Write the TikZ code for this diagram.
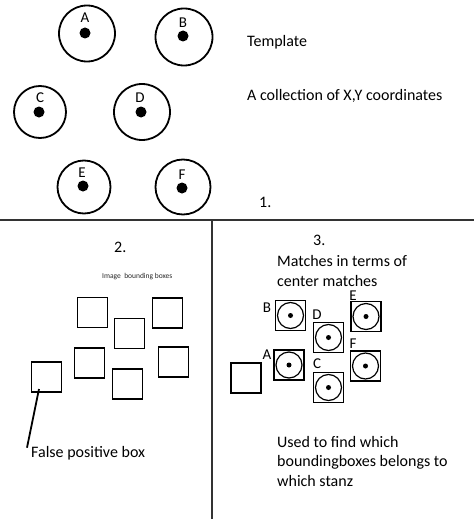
\documentclass[tikz,border=0pt]{standalone}
\usepackage{fontspec}
\setmainfont{Carlito}
\usetikzlibrary{calc}
\begin{document}
\begin{tikzpicture}[x=1pt,y=-1pt,
  bigring/.style={draw,circle,line width=1.8pt,inner sep=0pt,minimum size=#1},
  bigdot/.style={fill,circle,inner sep=0pt,minimum size=11pt},
  lbl/.style={font=\fontsize{15}{18}\selectfont,inner sep=0pt},
  txt/.style={font=\fontsize{16}{19.5}\selectfont,inner sep=0pt,anchor=base west,align=left},
  bbox/.style={draw,line width=1.4pt,inner sep=0pt,minimum size=30pt},
  mbox/.style={draw,line width=1.2pt,inner sep=0pt,minimum size=30pt},
  mring/.style={draw,circle,line width=1.2pt,inner sep=0pt,minimum size=26pt},
  mdot/.style={fill,circle,inner sep=0pt,minimum size=5pt},
  sep/.style={line width=1.5pt,draw=black!80}]
\useasboundingbox (0,0) rectangle (474,519);
% ---------- panel 1 ----------
\node[bigring=56pt] (rA) at (87,33.5) {};
\node[bigring=57pt] (rB) at (184,37) {};
\node[bigring=52pt] (rC) at (40,112) {};
\node[bigring=56pt] (rD) at (142,112) {};
\node[bigring=53pt] (rE) at (84,187) {};
\node[bigring=55pt] (rF) at (183,187) {};
\node[bigdot] (dA) at (85,33) {};
\node[bigdot] (dB) at (183,36) {};
\node[bigdot] (dC) at (39,112) {};
\node[bigdot] (dD) at (141,112) {};
\node[bigdot] (dE) at (83,186) {};
\node[bigdot] (dF) at (182,188) {};
\node[lbl] (tA) at (85,18) {A};
\node[lbl] (tB) at (183,23) {B};
\node[lbl] (tC) at (40,98) {C};
\node[lbl] (tD) at (140,98) {D};
\node[lbl] (tE) at (82,173) {E};
\node[lbl] (tF) at (182,175) {F};
\node[txt] (templ) at (247,47) {Template};
\node[txt] (coll) at (247,100) {A collection of X,Y coordinates};
\node[txt] (one) at (259,207) {1.};
% ---------- separators ----------
\coordinate (hl) at (0,220);
\coordinate (hr) at (474,220);
\coordinate (vt) at (212,220);
\coordinate (vb) at (212,519);
\draw[sep] (hl) -- (hr);
\draw[sep] (vt) -- (vb);
% ---------- panel 2 ----------
\node[txt] (two) at (114,252) {2.};
\node[font=\fontsize{7.5}{9}\selectfont,inner sep=0pt,anchor=base west,text=black!85] (ibb) at (102,278) {Image\ \ bounding boxes};
\node[bbox] (b1) at (92.5,312.5) {};
\node[bbox] (b2) at (129.5,333.5) {};
\node[bbox] (b3) at (167.5,313) {};
\node[bbox] (b4) at (89.5,363) {};
\node[bbox] (b5) at (173.5,362) {};
\node[bbox] (b6) at (127.5,384) {};
\node[bbox] (fp) at (46.5,377) {};
\node[txt] (fptext) at (31,457) {False positive box};
\coordinate (fpa) at (39,389);
\coordinate (fpb) at ($(fptext.north west)+(-4,2)$);
\draw[line width=1.8pt] (fpa) -- (fpb);
% ---------- panel 3 ----------
\node[txt] (three) at (313,245) {3.};
\node[txt] (match) at (277,286) {Matches in terms of\\center matches};
\foreach \n/\x/\y in {B/290.5/315.5, D/328.5/337.5, E/366/316.5, A/289/365, C/328.5/387.5, F/365.5/366}{
  \node[mbox] (s\n) at (\x,\y) {};
  \node[mring] (c\n) at (\x,\y) {};
  \node[mdot] (p\n) at (\x,\y) {};
}
\node[lbl] (lB) at (267,308) {B};
\node[lbl] (lD) at (317,315) {D};
\node[lbl] (lE) at (353,296) {E};
\node[lbl] (lA) at (267,355) {A};
\node[lbl] (lC) at (317,364) {C};
\node[lbl] (lF) at (353,344) {F};
\node[mbox] (fp3) at (246,378) {};
\node[txt] (used) at (277,486) {Used to find which\\boundingboxes belongs to\\which stanz};
\end{tikzpicture}
\end{document}
